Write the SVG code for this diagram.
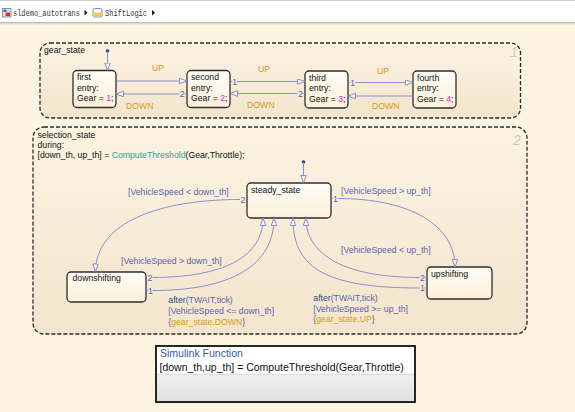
<svg xmlns="http://www.w3.org/2000/svg" width="575" height="412" viewBox="0 0 575 412">
<defs>
<linearGradient id="gContainer" x1="0" y1="0" x2="0" y2="1">
<stop offset="0" stop-color="#FCF3E2"/><stop offset="1" stop-color="#F3E5CD"/>
</linearGradient>
<linearGradient id="gState" x1="0" y1="0" x2="0" y2="1">
<stop offset="0" stop-color="#FFFDF7"/><stop offset="1" stop-color="#FCF0D9"/>
</linearGradient>
<linearGradient id="gFunc" x1="0" y1="0" x2="0" y2="1">
<stop offset="0" stop-color="#FDFDFD"/><stop offset="1" stop-color="#E0E0E0"/>
</linearGradient>
<marker id="arr" markerUnits="userSpaceOnUse" markerWidth="10" markerHeight="8" refX="8" refY="3" orient="auto">
<path d="M0.5,0.3 L8,3 L0.5,5.7 Z" fill="#FFF9EC" stroke="#7C82C6" stroke-width="0.9"/>
</marker>
<style>
text{font-family:"Liberation Sans",Arial,sans-serif;}
.st{fill:url(#gState);stroke:#2E2E2E;stroke-width:1.3;}
.box{fill:url(#gContainer);stroke:#2A2A2A;stroke-width:1.3;stroke-dasharray:4 2;}
.t{font-size:8.7px;fill:#111;}
.lb{font-size:8.7px;fill:#5C62B0;}
.or{fill:#D89A22;}
.mg{fill:#E020E0;}
.tl{fill:#2BA3A3;}
.af{fill:#24508E;}
.ln{fill:none;stroke:#8086C8;stroke-width:0.9;}
.ar{marker-end:url(#arr);}
.num{font-size:14px;font-style:italic;fill:#C9C9C9;}
.bar{font-family:"Liberation Mono",monospace;font-size:8.5px;fill:#333;}
</style>
</defs>

<rect x="0" y="0" width="575" height="412" fill="#FDF4E2"/>

<g id="toolbar">
<rect x="0" y="0" width="575" height="23" fill="#FFFFFF"/>
<line x1="0" y1="0.5" x2="575" y2="0.5" stroke="#CFCFCF" stroke-width="1"/>
<line x1="0" y1="22.8" x2="575" y2="22.8" stroke="#A8A8A8" stroke-width="1.2"/>
<line x1="0" y1="24" x2="575" y2="24" stroke="#EFE6D6" stroke-width="1"/>
<rect x="2.5" y="8.5" width="8.5" height="8.5" fill="#DDE6F0" stroke="#6B7C95" stroke-width="0.8"/>
<rect x="3.5" y="9.5" width="3" height="2.5" fill="#3C6FB0"/>
<rect x="5.5" y="12.5" width="4.5" height="3.5" fill="#D2322D"/>
<text class="bar" x="13" y="15.5" textLength="67" lengthAdjust="spacingAndGlyphs">sldemo_autotrans</text>
<path d="M84.5,10 L87.5,12.7 L84.5,15.4 Z" fill="#111"/>
<rect x="93" y="8.5" width="9" height="8.5" rx="1.5" fill="#FFFFFF" stroke="#5B78A8" stroke-width="0.8"/>
<rect x="93.5" y="12.5" width="8" height="4" fill="#F2C94C"/>
<text class="bar" x="105" y="15.5" textLength="42" lengthAdjust="spacingAndGlyphs">ShiftLogic</text>
<path d="M152,10 L155,12.7 L152,15.4 Z" fill="#111"/>
</g>

<g id="gear_state">
<rect class="box" x="40" y="43" width="480.5" height="75" rx="10"/>
<text class="t" x="44" y="52.5">gear_state</text>
<text class="num" x="510" y="56.5">1</text>
</g>

<g id="selection_state">
<rect class="box" x="33" y="127" width="494" height="207" rx="11"/>
<text class="t" x="37.5" y="137.5">selection_state</text>
<text class="t" x="37.5" y="147.7">during:</text>
<text class="t" x="37.5" y="157.8">[down_th, up_th] = <tspan class="tl">ComputeThreshold</tspan>(Gear,Throttle);</text>
<text class="num" x="513" y="144.5">2</text>
</g>

<g id="first">
<rect class="st" x="73" y="70.5" width="43" height="37" rx="4"/>
<text class="t" x="77" y="80">first</text>
<text class="t" x="77" y="90.5">entry:</text>
<text class="t" x="77" y="101">Gear = <tspan class="mg">1</tspan>;</text>
</g>
<g id="second">
<rect class="st" x="187" y="70.5" width="43" height="37" rx="4"/>
<text class="t" x="191" y="80">second</text>
<text class="t" x="191" y="90.5">entry:</text>
<text class="t" x="191" y="101">Gear = <tspan class="mg">2</tspan>;</text>
</g>
<g id="third">
<rect class="st" x="305" y="71" width="43" height="37" rx="4"/>
<text class="t" x="309" y="80.5">third</text>
<text class="t" x="309" y="91">entry:</text>
<text class="t" x="309" y="101.5">Gear = <tspan class="mg">3</tspan>;</text>
</g>
<g id="fourth">
<rect class="st" x="413" y="71" width="43" height="37" rx="4"/>
<text class="t" x="417" y="80.5">fourth</text>
<text class="t" x="417" y="91">entry:</text>
<text class="t" x="417" y="101.5">Gear = <tspan class="mg">4</tspan>;</text>
</g>

<g id="steady_state">
<rect class="st" x="247" y="183" width="84" height="35" rx="4"/>
<text class="t" x="251" y="192.5">steady_state</text>
</g>
<g id="downshifting">
<rect class="st" x="67" y="272" width="79" height="30" rx="4"/>
<text class="t" x="72.5" y="281">downshifting</text>
</g>
<g id="upshifting">
<rect class="st" x="427" y="267" width="65" height="32" rx="4"/>
<text class="t" x="431" y="277">upshifting</text>
</g>

<g id="simulink_function">
<rect x="157" y="347" width="259" height="56" fill="#C8C8C8" opacity="0.5"/>
<rect x="156" y="346" width="259" height="56" fill="url(#gFunc)"/>
<rect x="156" y="346" width="259" height="28" fill="#FFFFFF"/>
<line x1="157" y1="374.3" x2="414" y2="374.3" stroke="#D4D4D4" stroke-width="0.8"/>
<rect x="156" y="346" width="259" height="56" fill="none" stroke="#111" stroke-width="1.8"/>
<text x="160" y="356.5" font-size="10.5" fill="#2D5C9E">Simulink Function</text>
<text x="159.5" y="370.5" font-size="10.5" fill="#111">[down_th,up_th] = ComputeThreshold(Gear,Throttle)</text>
</g>

<g id="connectors">
<circle cx="107.5" cy="51" r="1.8" fill="#353C99"/>
<path class="ln ar" d="M107.5,51 V70.5"/>
<circle cx="303.5" cy="162" r="1.8" fill="#353C99"/>
<path class="ln ar" d="M303.5,162 V183"/>

<path class="ln ar" d="M116,81 H187"/>
<text class="lb or" x="152" y="71">UP</text>
<path class="ln ar" d="M179,94 H116"/>
<path class="ln" d="M184.5,94 H187"/>
<text class="lb" x="179.8" y="97">2</text>
<text class="lb or" x="126" y="108.5">DOWN</text>

<path class="ln" d="M230,81.5 H232"/>
<text class="lb" x="232.3" y="84.5">1</text>
<path class="ln ar" d="M237,81.5 H305"/>
<text class="lb or" x="258" y="72">UP</text>
<path class="ln ar" d="M297.5,93.5 H230"/>
<path class="ln" d="M303,93.5 H305"/>
<text class="lb" x="298" y="96.5">2</text>
<text class="lb or" x="247" y="108">DOWN</text>

<path class="ln" d="M348,82.5 H350"/>
<text class="lb" x="350.3" y="85.5">1</text>
<path class="ln ar" d="M355,82.5 H413"/>
<text class="lb or" x="377" y="74">UP</text>
<path class="ln ar" d="M413,96 H348"/>
<text class="lb or" x="372" y="109">DOWN</text>

<text class="lb" x="240.6" y="202.5">2</text>
<path class="ln ar" d="M240,199.5 C160,199.5 96,222 95.5,271.5"/>
<text class="lb" x="128" y="194.5">[VehicleSpeed &lt; down_th]</text>

<path class="ln" d="M331,198.5 H333"/>
<text class="lb" x="333" y="201.5">1</text>
<path class="ln ar" d="M337.5,198.5 C410,198.5 455,225 455,267"/>
<text class="lb" x="341" y="194">[VehicleSpeed &gt; up_th]</text>

<text class="lb" x="147.5" y="280.7">2</text>
<path class="ln ar" d="M152.5,277.5 C213,277.5 263,262 263,218"/>
<text class="lb" x="121" y="264">[VehicleSpeed &gt; down_th]</text>
<path class="ln" d="M146,290.5 H148"/>
<text class="lb" x="148" y="293.7">1</text>
<path class="ln ar" d="M152.5,290.5 C232,290.5 274,265 274,218"/>
<text class="lb" x="168.3" y="303.3"><tspan class="af">after</tspan>(TWAIT,tick)</text>
<text class="lb" x="168.3" y="314">[VehicleSpeed &lt;= down_th]</text>
<text class="lb" x="168.3" y="324.5">{<tspan class="or">gear_state.DOWN</tspan>}</text>

<path class="ln" d="M424.5,277.5 H427"/>
<text class="lb" x="420" y="280.5">2</text>
<path class="ln ar" d="M419.5,277.5 C345,277.5 306,255 306,218"/>
<text class="lb" x="341" y="252.7">[VehicleSpeed &lt; up_th]</text>
<path class="ln" d="M424.5,288 H427"/>
<text class="lb" x="420" y="291">1</text>
<path class="ln ar" d="M419.5,288 C320,288 293,265 293,218"/>
<text class="lb" x="313.3" y="300.7"><tspan class="af">after</tspan>(TWAIT,tick)</text>
<text class="lb" x="313.3" y="311.7">[VehicleSpeed &gt;= up_th]</text>
<text class="lb" x="313.3" y="322">{<tspan class="or">gear_state.UP</tspan>}</text>
</g>
</svg>
